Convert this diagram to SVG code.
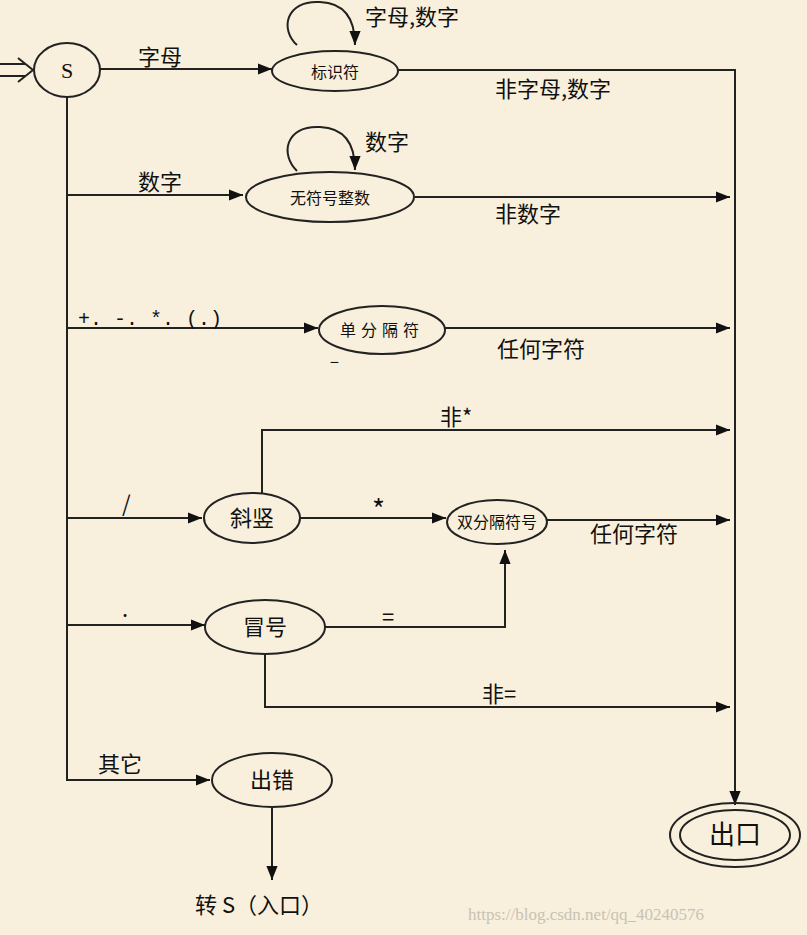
<svg xmlns="http://www.w3.org/2000/svg" width="807" height="935" viewBox="0 0 807 935">
<style>
.n{fill:none;stroke:#222;stroke-width:2}
.c{fill:none;stroke:#222;stroke-width:2}
text{font-family:"Noto Sans CJK SC","Liberation Sans",sans-serif;fill:#111}
.t{font-size:22px}
.s{font-size:16px}
</style>
<defs>
<marker id="b" viewBox="0 0 10 10" refX="10" refY="5" markerWidth="20" markerHeight="14" markerUnits="userSpaceOnUse" orient="auto"><path d="M0,1 L10,5 L0,9 Z" fill="#111"/></marker>
</defs>
<rect width="807" height="935" fill="#f8f0dc"/>
<g id="connectors" marker-end="url(#b)">
<path class="c" d="M0,64 H26 M0,76 H26 M18,58 L33,70 L18,82" marker-end="none"/>
<path class="c" d="M100,69 H272"/>
<path class="c" d="M297,45 C280,30 285,0 320,2 C345,3 355,20 355,45"/>
<path class="c" d="M398,70 H735 V805"/>
<path class="c" d="M67,97 V780 H210"/>
<path class="c" d="M67,195 H243"/>
<path class="c" d="M297,171 C280,155 285,125 320,127 C345,128 355,145 355,170"/>
<path class="c" d="M415,197 H730"/>
<path class="c" d="M67,328 H318"/>
<path class="c" d="M445,328 H730"/>
<path class="c" d="M67,518 H202"/>
<path class="c" d="M262,493 V430 H730"/>
<path class="c" d="M300,518 H446"/>
<path class="c" d="M547,520 H730"/>
<path class="c" d="M67,625 H205"/>
<path class="c" d="M325,627 H505 V550"/>
<path class="c" d="M265,655 V707 H730"/>
<path class="c" d="M272,808 V880"/>
</g>
<g id="S"><ellipse class="n" cx="67" cy="70" rx="33" ry="27"/><text class="t" x="67" y="78" text-anchor="middle" style="font-family:'Liberation Serif',serif">S</text></g>
<g id="id"><ellipse class="n" cx="335" cy="71" rx="63" ry="20"/><text class="s" x="335" y="78" text-anchor="middle">标识符</text></g>
<g id="uint"><ellipse class="n" cx="330" cy="197" rx="84" ry="25"/><text class="s" x="330" y="204" text-anchor="middle">无符号整数</text></g>
<g id="single"><ellipse class="n" cx="382" cy="330" rx="63" ry="24"/><text class="s" x="382" y="336" text-anchor="middle" letter-spacing="5">单分隔符</text></g>
<g id="slash"><ellipse class="n" cx="252" cy="518" rx="48" ry="25"/><text class="t" x="252" y="526" text-anchor="middle">斜竖</text></g>
<g id="double"><ellipse class="n" cx="497" cy="522" rx="50" ry="22"/><text class="s" x="497" y="528" text-anchor="middle">双分隔符号</text></g>
<g id="colon"><ellipse class="n" cx="265" cy="627" rx="60" ry="27"/><text class="t" x="265" y="635" text-anchor="middle">冒号</text></g>
<g id="err"><ellipse class="n" cx="272" cy="780" rx="60" ry="27"/><text class="t" x="272" y="788" text-anchor="middle">出错</text></g>
<g id="exit"><ellipse class="n" cx="735" cy="835" rx="65" ry="32"/><ellipse class="n" cx="735" cy="835" rx="55" ry="25"/><text class="t" x="735" y="844" text-anchor="middle" style="font-size:26px">出口</text></g>
<g id="labels">
<text class="t" x="138" y="65">字母</text>
<text class="t" x="365" y="25">字母,数字</text>
<text class="t" x="495" y="97">非字母,数字</text>
<text class="t" x="138" y="190">数字</text>
<text class="t" x="365" y="150">数字</text>
<text class="t" x="495" y="222">非数字</text>
<text x="78" y="325" style="font-family:'Liberation Mono',monospace;font-size:20px">+. -. *. (.)</text>
<text class="s" x="330" y="368">−</text>
<text class="t" x="497" y="357">任何字符</text>
<text class="t" x="122" y="512">/</text>
<text class="t" x="440" y="425">非*</text>
<text x="372" y="520" style="font-size:28px">*</text>
<text class="t" x="590" y="542">任何字符</text>
<text class="t" x="122" y="617">.</text>
<text class="t" x="382" y="625">=</text>
<text class="t" x="482" y="702">非=</text>
<text class="t" x="98" y="772">其它</text>
<text class="t" x="195" y="913">转 S（入口）</text>
<text x="468" y="920" style="font-family:'Liberation Serif',serif;font-size:17px;fill:#c8c2b4">https://blog.csdn.net/qq_40240576</text>
</g>
</svg>
